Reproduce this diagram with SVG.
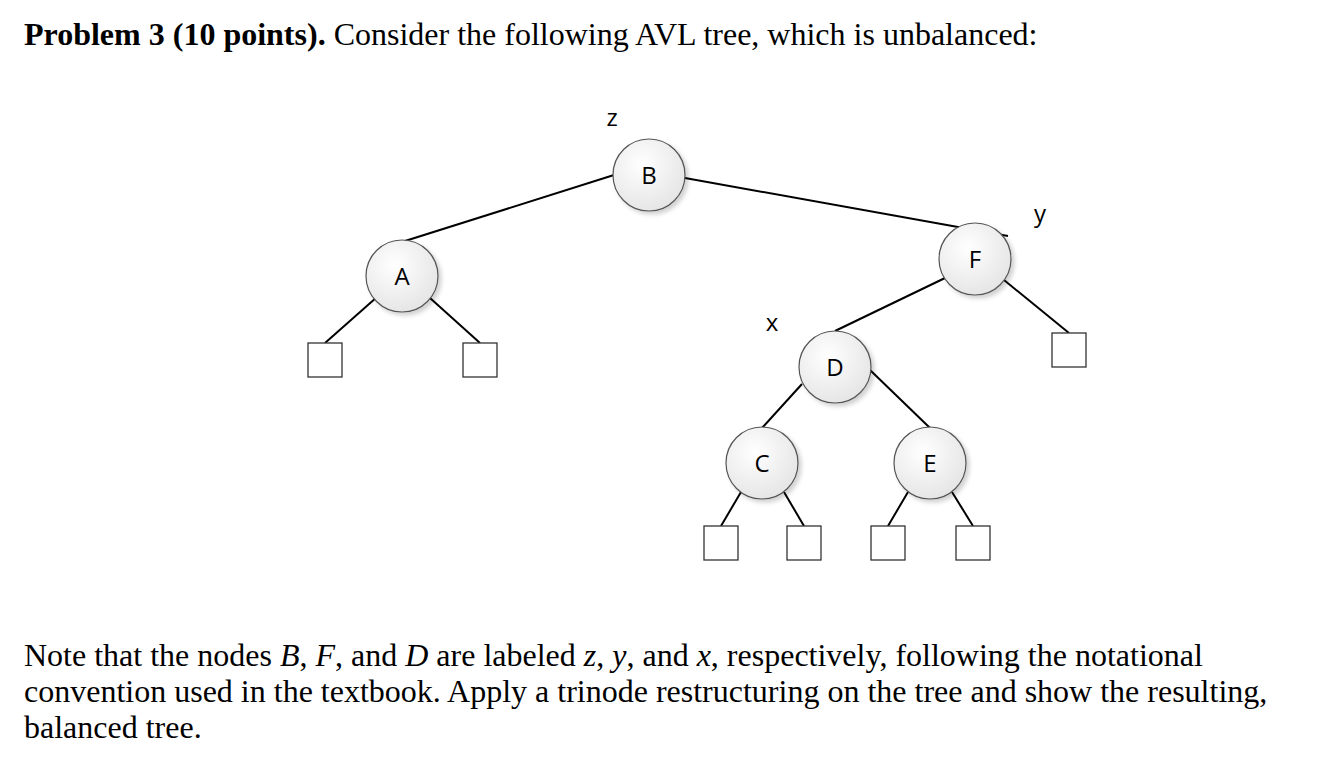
<svg xmlns="http://www.w3.org/2000/svg" width="1320" height="762" viewBox="0 0 1320 762">
<defs>
<radialGradient id="g" cx="0.4" cy="0.35" r="0.7"><stop offset="0" stop-color="#ffffff"/><stop offset="1" stop-color="#e4e4e4"/></radialGradient>
<filter id="sh" x="-30%" y="-30%" width="160%" height="160%"><feDropShadow dx="3" dy="3" stdDeviation="2" flood-color="#000" flood-opacity="0.18"/></filter>
</defs>
<style>
.n{fill:url(#g);stroke:#555;stroke-width:1.2;filter:url(#sh)}
.l{fill:#fff;stroke:#333;stroke-width:1.3}
.e{stroke:#000;stroke-width:2;fill:none}
.t{font-family:"Open Sans","Liberation Sans",sans-serif;font-size:24px;text-anchor:middle;fill:#000}
.p{font-family:"Liberation Serif",serif;font-size:32px;fill:#000}
</style>
<rect width="1320" height="762" fill="#fff"/>
<text class="p" x="24" y="45"><tspan font-weight="bold">Problem 3 (10 points).</tspan> Consider the following AVL tree, which is unbalanced:</text>
<g id="connectors">
<line class="e" x1="614" y1="175" x2="405" y2="241"/>
<line class="e" x1="685" y1="178" x2="1008" y2="236"/>
<line class="e" x1="377" y1="297" x2="325" y2="343"/>
<line class="e" x1="430" y1="298" x2="480" y2="343"/>
<line class="e" x1="945" y1="278" x2="835" y2="331"/>
<line class="e" x1="1004" y1="280" x2="1069" y2="333"/>
<line class="e" x1="802" y1="384" x2="762" y2="428"/>
<line class="e" x1="870" y1="370" x2="930" y2="428"/>
<line class="e" x1="741" y1="492" x2="721" y2="526"/>
<line class="e" x1="784" y1="492" x2="804" y2="526"/>
<line class="e" x1="908" y1="492" x2="888" y2="526"/>
<line class="e" x1="952" y1="492" x2="973" y2="526"/>
</g>
<g id="B"><circle class="n" cx="649" cy="175" r="36"/><text class="t" x="649" y="184">B</text></g>
<g id="A"><circle class="n" cx="402" cy="276" r="36"/><text class="t" x="402" y="285">A</text></g>
<g id="F"><circle class="n" cx="975" cy="259" r="36"/><text class="t" x="975" y="268">F</text></g>
<g id="D"><circle class="n" cx="835" cy="367" r="36"/><text class="t" x="835" y="376">D</text></g>
<g id="C"><circle class="n" cx="762" cy="463" r="36"/><text class="t" x="762" y="472">C</text></g>
<g id="E"><circle class="n" cx="930" cy="463" r="36"/><text class="t" x="930" y="472">E</text></g>
<g id="leaves">
<rect class="l" x="308" y="343" width="34" height="34"/>
<rect class="l" x="463" y="343" width="34" height="34"/>
<rect class="l" x="1052" y="333" width="34" height="34"/>
<rect class="l" x="704" y="526" width="34" height="34"/>
<rect class="l" x="787" y="526" width="34" height="34"/>
<rect class="l" x="871" y="526" width="34" height="34"/>
<rect class="l" x="956" y="526" width="34" height="34"/>
</g>
<g id="labels">
<text class="t" x="612" y="126">z</text>
<text class="t" x="1040" y="222">y</text>
<text class="t" x="772" y="331">x</text>
</g>
<text class="p" x="24" y="666">Note that the nodes <tspan font-style="italic">B</tspan>, <tspan font-style="italic">F</tspan>, and <tspan font-style="italic">D</tspan> are labeled <tspan font-style="italic">z</tspan>, <tspan font-style="italic">y</tspan>, and <tspan font-style="italic">x</tspan>, respectively, following the notational</text>
<text class="p" x="24" y="702">convention used in the textbook. Apply a trinode restructuring on the tree and show the resulting,</text>
<text class="p" x="24" y="738">balanced tree.</text>
</svg>
